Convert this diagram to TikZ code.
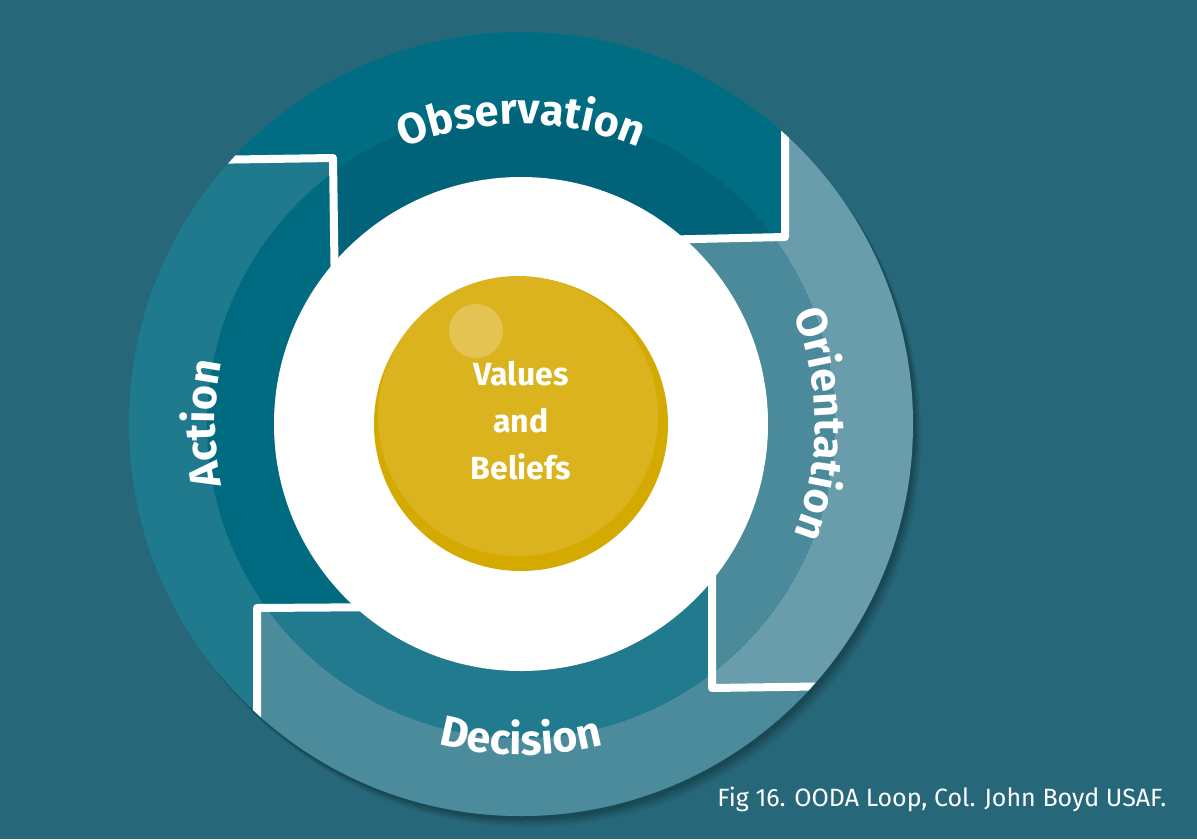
\documentclass[tikz,border=0pt]{standalone}
\usepackage{fontspec}
\setmainfont{Fira Sans}
\usetikzlibrary{decorations.text,calc}
\definecolor{bg}{HTML}{26687A}
\definecolor{obsO}{HTML}{006D82}\definecolor{obsI}{HTML}{00637A}
\definecolor{oriO}{HTML}{6A9DAC}\definecolor{oriI}{HTML}{4A8A9B}
\definecolor{decO}{HTML}{4B8B9C}\definecolor{decI}{HTML}{217A8D}
\definecolor{actO}{HTML}{207A8D}\definecolor{actI}{HTML}{006B80}
\definecolor{goldD}{HTML}{D4A900}\definecolor{goldM}{HTML}{DBB31F}\definecolor{goldH}{HTML}{E3C352}
\tikzset{
 wline/.style={white,line width=8pt,line join=round,line cap=round},
 lbl/.style={postaction={decorate},decoration={text along path,text align=center,text color=white,
   text={|\fontsize{43}{43}\selectfont\bfseries|#1}}},
}
\begin{document}
\begin{tikzpicture}[x=1pt,y=-1pt]
\fill[bg] (0,0) rectangle (1197,839);
\useasboundingbox (0,0) rectangle (1197,839);
\foreach \i/\o in {14/0.05,11/0.07,8/0.09,5/0.1}{\fill[black,opacity=\o] (521+\i*0.6,424+\i*0.8) circle (392);}
\coordinate (c) at (521,424);
\begin{scope}
\clip (c) circle (392);
\fill[actO] (c) circle (392);
\fill[obsO] (0,0)--(0,158)--(333,158)--(333,424)--(521,424)--(521,237)--(785,237)--(785,0)--cycle;
\fill[oriO] (785,0)--(785,237)--(521,237)--(521,424)--(712,424)--(712,688)--(1000,688)--(1000,0)--cycle;
\fill[decO] (712,424)--(521,424)--(521,607)--(257,607)--(257,900)--(1000,900)--(1000,688)--(712,688)--cycle;
\clip (c) circle (314);
\fill[actI] (c) circle (314);
\fill[obsI] (0,0)--(0,158)--(333,158)--(333,424)--(521,424)--(521,237)--(785,237)--(785,0)--cycle;
\fill[oriI] (785,0)--(785,237)--(521,237)--(521,424)--(712,424)--(712,688)--(1000,688)--(1000,0)--cycle;
\fill[decI] (712,424)--(521,424)--(521,607)--(257,607)--(257,900)--(1000,900)--(1000,688)--(712,688)--cycle;
\end{scope}
\begin{scope}
\clip (c) circle (392);
\draw[wline] (200,160)--(333,158)--(335,300);
\draw[wline] (785,100)--(785,237)--(650,240);
\draw[wline] (712,520)--(712,688)--(850,686);
\draw[wline] (400,607)--(257,608)--(257,760);
\end{scope}
\fill[white] (c) circle (247);
\fill[goldD] (c) circle (147);
\fill[goldM] (518,416) circle (140);
\fill[goldH] (476,331) circle (27);
\node[white,font=\fontsize{32}{47}\selectfont\bfseries,align=center] (vb) at (521,421) {Values\\and\\Beliefs};
\path[lbl=Observation] ($(c)+(240:300)$) arc[start angle=240,end angle=300,radius=300];
\path[lbl=Orientation] ($(c)+(-32:294)$) arc[start angle=-32,end angle=32,radius=294];
\path[lbl=Action] ($(c)+(145:306)$) arc[start angle=145,end angle=215,radius=306];
\path[lbl=Decision] ($(c)+(120:331)$) arc[start angle=120,end angle=60,radius=331];
\node[white,font=\fontsize{25}{25}\selectfont,anchor=base east] (cap) at (1170,806) {Fig 16. OODA Loop, Col. John Boyd USAF.};
\end{tikzpicture}
\end{document}
